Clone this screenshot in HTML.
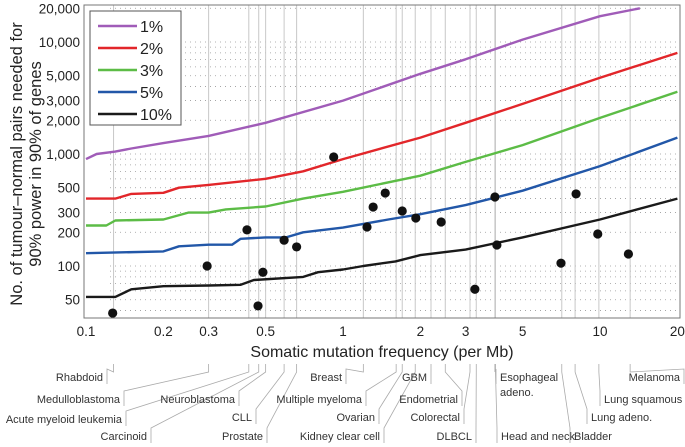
<!DOCTYPE html>
<html><head><meta charset="utf-8"><style>
body{margin:0;background:#fff;font-family:"Liberation Sans",sans-serif;}
svg{display:block}
</style></head><body>
<svg id="chart" width="685" height="447" xmlns="http://www.w3.org/2000/svg">
<g id="grid"></g>
<g id="curves"></g>
<g id="dots"></g>
<rect x="84" y="5" width="596" height="313" fill="none" stroke="#777" stroke-width="1"/>
<g id="axes" font-size="13.5" fill="#222"></g>
<text x="382" y="357" font-size="16" text-anchor="middle" fill="#222">Somatic mutation frequency (per Mb)</text>
<text transform="translate(22,164) rotate(-90)" font-size="16.5" text-anchor="middle" fill="#222"><tspan x="0" dy="0">No. of tumour–normal pairs needed for</tspan><tspan x="0" dy="19">90% power in 90% of genes</tspan></text>
<g id="legend"></g>
<g id="annot" font-size="11" fill="#333"></g>
</svg>
<script>
const NS="http://www.w3.org/2000/svg";
const curveLabels=["1%","2%","3%","5%","10%"];
const curveColors=["#a05cb8","#e2262a","#5cbc46","#2257a8","#1a1a1a"];
const x1=[0.1,0.11,0.13,0.15,0.2,0.3,0.5,1,2,3,5,10,14.3];
const y1=[900,1000,1050,1120,1250,1450,1900,3000,5200,7000,10500,17000,20000];
const x2=[0.1,0.13,0.15,0.2,0.23,0.3,0.5,0.7,1,2,3,5,10,20];
const y2=[400,400,440,450,500,530,600,700,900,1400,1900,2800,4800,8000];
const x3=[0.1,0.12,0.13,0.2,0.25,0.3,0.35,0.5,0.7,1,2,3,5,10,20];
const y3=[230,230,255,260,300,300,320,340,400,460,640,850,1200,2100,3600];
const x5=[0.1,0.2,0.23,0.3,0.37,0.4,0.5,0.6,0.7,1,1.5,2,3,5,10,20];
const y5=[130,135,150,155,155,175,180,180,200,220,260,290,350,470,780,1400];
const x10=[0.1,0.13,0.15,0.2,0.3,0.4,0.45,0.7,0.8,1,1.2,1.6,2,3,5,10,20];
const y10=[53,53,62,66,67,68,75,80,88,93,100,110,125,140,180,260,400];
const dotX=[0.127,0.296,0.423,0.467,0.488,0.59,0.66,0.92,1.24,1.31,1.46,1.70,1.92,2.41,3.26,3.90,3.97,7.05,8.07,9.8,12.9];
const dotY=[38,100,210,44,88,170,148,940,223,336,448,310,268,247,62,413,154,106,440,193,128];
const xTicks=[0.1,0.2,0.3,0.5,1,2,3,5,10,20];
const xTickLabels=["0.1","0.2","0.3","0.5","1","2","3","5","10","20"];
const yTicks=[50,100,200,300,500,1000,2000,3000,5000,10000,20000];
const yTickLabels=["50","100","200","300","500","1,000","2,000","3,000","5,000","10,000","20,000"];
const cancerNames=["Rhabdoid","Medulloblastoma","Acute myeloid leukemia","Carcinoid","Neuroblastoma","CLL","Prostate","Breast","Multiple myeloma","Ovarian","Kidney clear cell","GBM","Endometrial","Colorectal","DLBCL","Esophageal adeno.","Head and neck","Bladder","Lung adeno.","Lung squamous","Melanoma"];
const cancerFreq=[0.128,0.3,0.43,0.47,0.5,0.59,0.66,1.2,1.61,1.7,1.91,2.2,2.5,3.12,3.3,3.9,3.92,7.1,8.0,9.9,13.1];
const labelX=[103,120,122,147,235,252,263,342,362,375,380,427,458,460,472,500,501,574,591,604,680];
const labelRow=[381,403,423,440,403,421,440,381,403,421,440,381,403,421,440,381,440,440,421,403,381];
const labelAnchor=["end","end","end","end","end","end","end","end","end","end","end","end","end","end","end","start","start","start","start","start","end"];
function xs(v){return 86+257*Math.log10(v/0.1);}
function ys(v){return 154-112*Math.log10(v/1000);}
function mk(tag,attrs,parent){const e=document.createElementNS(NS,tag);for(const k in attrs)e.setAttribute(k,attrs[k]);parent.appendChild(e);return e;}
const grid=document.getElementById('grid');
for(let d=1;d<=4;d++){for(let m=1;m<10;m++){const v=m*Math.pow(10,d);const y=ys(v);if(y<6||y>317)continue;
const l=mk('line',{x1:110,x2:680,y1:y,y2:y,stroke:'#999','stroke-width':0.8,'stroke-dasharray':'1 4'},grid);

}}
cancerFreq.forEach((f,i)=>{const x=xs(f);
const l=mk('line',{x1:x,x2:x,y1:5,y2:318,stroke:'#c8c8c8','stroke-width':1},grid);

});
const cg=document.getElementById('curves');
const series=[[x1,y1],[x2,y2],[x3,y3],[x5,y5],[x10,y10]];
series.forEach((s,i)=>{const pts=s[0].map((x,j)=>xs(x).toFixed(1)+','+ys(s[1][j]).toFixed(1)).join(' ');
const p=mk('polyline',{points:pts,fill:'none',stroke:curveColors[i],'stroke-width':2.4,'stroke-linejoin':'round'},cg);

});
const dg=document.getElementById('dots');
dotX.forEach((x,i)=>{const c=mk('circle',{cx:xs(x),cy:ys(dotY[i]),r:4.6,fill:'#111'},dg);

});
const ag=document.getElementById('axes');
xTicks.forEach((t,i)=>{const tx=mk('text',{x:xs(t),y:336,'text-anchor':'middle'},ag);tx.textContent=xTickLabels[i];

});
yTicks.forEach((t,i)=>{const tx=mk('text',{x:80,y:ys(t)+5,'text-anchor':'end'},ag);tx.textContent=yTickLabels[i];

});
const lg=document.getElementById('legend');
const lb=mk('rect',{x:90,y:11,width:91,height:114,fill:'#fff',stroke:'#555','stroke-width':1},lg);


curveLabels.forEach((lab,i)=>{const y=26+i*22;
const l=mk('line',{x1:98,x2:137,y1:y,y2:y,stroke:curveColors[i],'stroke-width':2.6},lg);


const t=mk('text',{x:140,y:y+6,'font-size':16,fill:'#222'},lg);t.textContent=lab;

});
const an=document.getElementById('annot');
cancerNames.forEach((n,i)=>{const fx=xs(cancerFreq[i]);const ry=labelRow[i];
const ex=labelAnchor[i]==='end'?labelX[i]+4:labelX[i]-4;
const pts=[fx+','+364,fx+','+372,ex+','+(ry-12),ex+','+(ry+3)].join(' ');
const p=mk('polyline',{points:pts,fill:'none',stroke:'#aaa','stroke-width':0.8},an);


if(n==="Esophageal adeno."){const t=mk('text',{x:labelX[i],y:ry},an);
t.innerHTML='<tspan x="'+labelX[i]+'" dy="0">Esophageal</tspan><tspan x="'+labelX[i]+'" dy="15">adeno.</tspan>';

return;}
const t=mk('text',{x:labelX[i],y:ry,'text-anchor':labelAnchor[i]},an);t.textContent=n;

});
</script>
</body></html>
